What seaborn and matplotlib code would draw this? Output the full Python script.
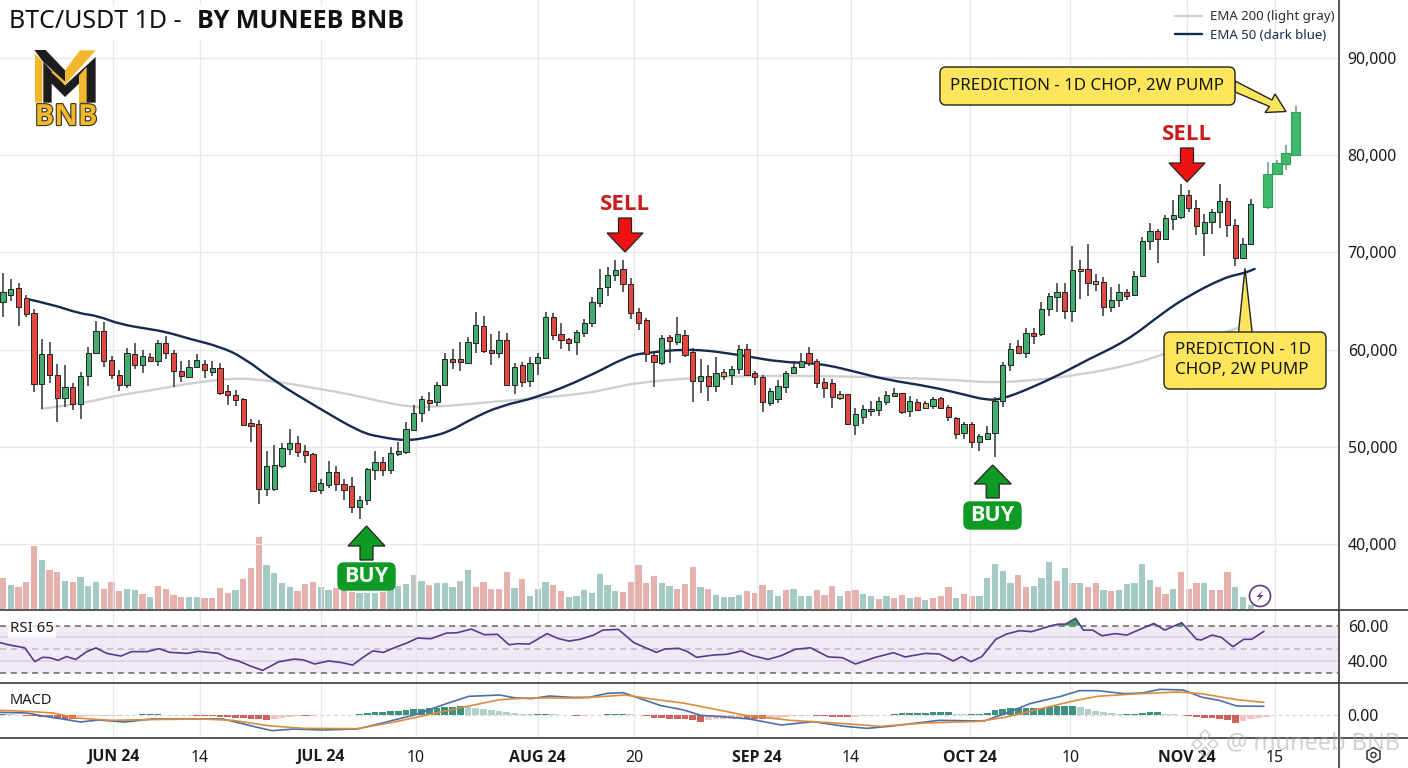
import matplotlib
matplotlib.use('Agg')
import matplotlib.pyplot as plt
import matplotlib.patheffects as pe
from matplotlib.patches import Polygon, FancyBboxPatch, Circle, PathPatch, Rectangle
from matplotlib.path import Path
import numpy as np
import pandas as pd
import seaborn as sns

# prices in thousands of USDT, one entry per daily candle
opens = [64.9,65.6,66.3,65.3,63.8,56.5,59.5,57.4,55.0,56.2,
         54.4,57.3,59.7,61.9,58.9,57.4,56.4,59.5,58.4,59.2,
         58.8,60.7,59.6,57.8,57.2,58.2,58.5,57.7,58.1,55.7,
         55.3,54.9,52.4,52.3,45.7,45.7,48.0,49.8,50.4,49.6,
         49.3,45.6,46.1,47.4,46.2,46.0,43.8,44.5,47.6,48.4,
         47.6,49.3,49.5,51.7,53.5,54.8,54.6,56.4,59.0,59.0,
         58.6,60.7,62.4,60.0,59.7,61.0,56.4,58.4,56.8,58.6,
         59.1,63.4,61.6,61.1,60.8,61.7,62.7,64.8,66.4,67.7,
         68.3,66.8,63.9,63.0,59.4,58.6,61.3,60.8,61.5,59.8,
         56.8,57.3,56.3,57.7,57.4,58.0,60.1,57.6,57.2,54.5,
         54.9,56.2,57.6,58.2,59.6,58.8,56.7,56.6,55.4,55.4,
         52.2,53.1,53.7,53.8,54.6,55.2,55.5,53.7,54.6,54.5,
         54.2,55.0,54.1,53.0,51.4,52.3,50.5,50.8,51.4,54.7,
         58.4,60.4,59.6,61.7,61.6,64.2,65.4,65.9,64.0,68.3,
         68.3,67.1,67.0,64.4,65.1,65.9,65.6,67.6,71.2,72.2,
         71.4,73.4,73.6,75.9,74.6,72.0,73.1,74.2,75.3,72.8,
         69.4,70.9]
closes = [65.9,66.2,64.4,63.7,56.5,59.5,57.4,55.0,56.2,54.4,
          57.3,59.7,61.9,58.8,57.4,56.4,59.6,58.4,59.3,58.8,
          60.7,59.6,57.8,57.3,58.2,58.9,57.9,58.1,55.5,55.3,
          54.8,52.2,52.1,45.7,48.0,48.1,49.9,50.4,49.5,49.2,
          45.5,46.3,47.4,46.2,45.6,43.8,44.5,47.7,48.4,47.6,
          49.4,49.6,51.8,53.5,54.9,54.5,56.4,59.0,58.7,58.7,
          60.8,62.5,59.9,59.7,61.0,56.4,58.2,56.7,58.6,59.2,
          63.4,61.5,61.0,60.7,61.8,62.7,64.9,66.3,67.7,68.2,
          66.7,63.8,62.7,59.5,58.7,61.2,60.9,61.6,59.4,56.8,
          57.3,56.3,57.6,57.3,58.0,60.1,57.4,57.2,54.6,55.7,
          56.3,57.6,58.2,58.8,58.6,56.6,56.0,55.1,55.0,52.3,
          53.4,53.9,53.9,54.7,55.3,55.5,53.6,54.7,53.8,54.0,
          54.9,54.0,53.1,51.3,52.3,50.5,51.1,51.4,54.7,58.4,
          60.1,59.7,61.7,61.4,64.2,65.5,65.9,64.0,68.2,68.1,
          66.9,66.8,64.4,65.1,65.9,65.5,67.6,71.2,72.2,71.4,
          73.5,73.9,75.9,74.6,72.7,73.1,74.2,75.3,72.8,69.4,
          70.9,75.0]
highs = [67.9,67.3,66.9,65.6,64.2,61.1,60.8,58.5,58.4,56.6,
         57.7,60.3,62.9,62.8,59.3,57.9,60.2,60.7,60.0,59.7,
         61.0,61.4,60.0,58.8,58.9,59.5,58.9,58.8,58.6,56.4,
         55.8,55.0,52.9,52.8,49.6,50.2,50.4,51.8,51.1,50.2,
         49.4,46.7,48.5,48.0,46.7,46.9,44.9,47.8,49.6,49.0,
         50.0,50.5,52.6,54.3,55.2,55.6,56.7,59.6,60.1,60.8,
         61.3,63.9,63.5,61.6,61.9,61.7,58.6,58.7,59.2,59.6,
         63.9,63.8,62.7,61.2,62.0,63.1,65.4,68.3,68.5,69.2,
         69.2,67.4,64.3,63.2,59.7,61.5,61.5,63.4,62.0,60.2,
         59.0,58.4,59.2,58.0,58.3,60.5,60.6,57.8,57.4,56.1,
         56.9,57.8,58.8,59.6,60.3,59.0,57.1,57.0,55.7,55.4,
         54.0,54.3,54.7,55.1,55.7,56.1,55.5,55.2,54.9,54.7,
         55.1,55.1,54.3,53.1,52.5,52.5,51.3,52.1,55.1,58.7,
         60.7,61.0,62.2,62.2,64.9,65.8,66.9,66.9,70.7,69.2,
         70.9,67.8,67.5,66.4,66.7,66.2,68.1,71.6,73.0,72.4,
         73.9,75.4,77.0,76.4,75.4,74.0,74.5,77.0,75.6,73.4,
         71.5,75.5]
lows = [63.4,65.0,62.4,63.4,55.6,53.9,56.6,52.6,54.1,53.8,
        52.9,56.3,59.6,58.2,57.0,55.7,56.1,58.0,57.6,58.7,
        58.3,59.0,56.2,56.7,57.1,58.1,57.1,57.3,55.3,54.3,
        54.2,52.2,50.5,44.1,44.9,45.4,47.8,49.2,49.0,48.3,
        45.4,45.1,45.8,45.4,44.5,43.2,42.6,44.0,46.6,47.0,
        47.2,49.1,49.3,51.6,52.6,53.7,54.2,56.3,58.0,57.8,
        58.6,59.7,59.6,58.4,59.1,56.3,55.4,56.2,56.2,57.4,
        59.1,61.0,60.1,59.9,59.4,61.3,62.3,64.4,65.5,67.1,
        65.9,63.1,62.0,58.7,56.2,58.4,58.6,60.5,59.2,54.6,
        55.5,54.7,55.6,56.9,56.4,57.5,57.3,56.4,53.6,54.2,
        54.5,55.5,57.5,58.1,58.3,56.1,55.0,54.0,54.8,52.2,
        51.2,52.3,53.2,53.2,54.3,55.1,53.4,53.1,53.7,53.9,
        53.9,53.9,52.7,50.8,50.8,49.9,49.6,50.7,48.9,54.1,
        57.8,59.6,59.1,60.6,61.4,63.5,63.9,63.1,62.8,65.2,
        65.5,66.0,63.5,63.9,64.4,65.1,65.5,67.5,70.2,68.9,
        71.3,72.3,73.4,74.2,71.8,69.6,71.9,72.5,71.6,68.6,
        69.3,70.8]
doji_days = [93, 108, 119, 139, 141]

# the four projected candles at the right edge
pred_days = [163.2, 164.4, 165.5, 166.8]
pred_opens = [74.7, 78.1, 79.1, 80.0]
pred_closes = [78.1, 79.2, 80.2, 84.4]
pred_highs = [79.3, 79.5, 81.0, 85.1]
pred_lows = [74.5, 78.0, 78.5, 80.0]

ema50_days = [3.1,6.1,9.9,12.1,15.1,19,21.1,24.1,28,31,35.3,40.5,46.1,48.7,52.1,55.1,57.7,
              60.3,64.1,68.9,75.3,80.5,83.1,89.1,95.5,100.3,105.4,110.6,114,119.6,123.9,
              126.9,128.9,132.5,136.8,139.8,145,149.7,152.7,157.5,160.3,161.5]
ema50_vals = [65.2,64.7,63.7,63.5,62.6,62.1,61.8,61.1,60.3,59.2,56.6,54.1,51.5,51.0,50.6,51.0,51.6,
              52.8,54.2,55.05,57.1,59.3,59.7,60.1,59.4,58.7,58.6,57.6,56.9,56.2,55.4,
              54.8,54.9,56.0,57.6,58.9,60.9,63.8,65.4,67.4,67.9,68.3]
ema200_days = [5,10.4,14.2,19,22.4,27.6,29.7,31.9,36.2,40.5,44.8,49.1,52.5,55.5,60.3,64.1,68.9,75.3,
               78.3,81.8,89.1,96.4,104.6,110.6,119.6,123.9,127.6,132.5,138.9,145.4,149.7,159.2]
ema200_vals = [53.9,54.5,55.2,55.8,56.3,56.9,57.0,57.0,56.6,56.0,55.4,54.6,54.1,54.1,54.4,54.7,55.0,55.5,
               56.0,56.6,57.1,57.3,57.3,57.2,57.0,56.8,56.6,56.8,57.4,58.4,59.5,62.2]

volumes = [92,71,67,82,189,147,117,112,83,80,
           96,69,82,60,80,53,60,57,44,37,
           70,59,42,35,37,37,33,33,63,49,
           56,89,122,217,132,109,79,67,55,75,
           82,65,56,62,57,52,47,47,47,52,
           67,69,75,102,84,72,79,79,66,84,
           117,66,82,61,60,110,63,89,39,60,
           81,71,55,36,40,56,47,105,72,55,
           50,82,133,79,100,78,68,60,75,127,
           67,60,41,35,35,42,54,47,72,57,
           40,56,59,40,40,56,41,69,39,53,
           57,45,39,30,39,32,41,34,35,28,
           32,38,67,34,45,40,40,93,135,113,
           77,101,67,69,92,140,84,124,79,79,
           67,79,57,55,57,74,78,136,87,65,
           46,61,112,60,79,79,56,56,110,65,
           37,12]
volume_sides = ("rtrrrtrrtr" "tttrrrttrt" "rrrrttrrrr" "trrrttttrr" "rttrrrtttr"
                "tttgtrtttg" "trrrrrtrtt" "trrttttttt" "rrrrrttrrr" "trttttrrrt"
                "trtttrrrtr" "rttrtrrtrt" "rrrtrrtttt" "trrtttrtrt" "rrtrtttttr"
                "rtrrrtrrrt" "tt")

rsi_days = [-0.4,0.8,2.8,4.1,5.1,6,7.1,8.2,9.4,10.8,12,13.4,15.2,16.6,18.6,20.1,21.5,23.8,25.2,27.8,
            29,30.4,31.9,33.5,35.6,37.6,38.8,40.2,42,43.7,45.1,46.6,47.7,49.1,50.6,52,53.5,55.2,57.2,58.6,
            60.4,62.1,63.8,65.3,66.4,67.9,70.2,71.6,73,74.5,76.2,77.4,79.4,81.4,82.6,84.3,85.4,87.2,88.3,89.5,
            91.7,93.4,95.3,96.6,98.7,100.4,102.2,104.2,106.5,108.3,110,112.6,114.9,116.4,119,120.8,122.6,123.7,124.9,126.3,
            128.1,129.5,131.2,132.7,135.4,136.2,137.1,138.4,139.4,140.6,141.8,143.5,145,148.5,149.9,152.1,154,154.6,156,157.2,
            158.7,160.1,161.1,162.7]
rsi_vals = [50.4,49.1,47.5,39.6,42.1,41.9,40.4,42.5,40.9,45.3,47.4,44.3,42.8,45.3,45.3,47.0,44.9,44.3,45.5,44.3,
            41.5,40.0,37.2,34.7,39.6,41.1,40.6,38.3,40.0,39.1,37.7,42.5,45.7,44.9,47.7,50.0,53.0,52.6,55.8,56.0,
            58.1,54.9,55.1,49.2,49.8,49.6,55.5,52.8,51.3,52.3,54.7,57.5,57.9,50.4,48.1,44.9,46.8,47.2,45.3,42.1,
            43.4,43.8,45.7,43.2,40.9,43.0,46.6,47.5,42.3,41.9,38.3,42.1,44.7,42.3,44.3,44.0,40.0,42.5,39.6,42.5,
            52.3,55.3,57.2,56.6,60.2,60.9,60.9,64.2,57.5,57.5,54.3,55.5,54.7,61.3,57.5,61.7,52.3,51.9,54.7,53.4,
            48.1,52.3,52.3,56.8]

macd_days = [-0.4,3.1,5.4,7.7,10,12.3,15.7,19.2,25,28.4,31.9,34.7,37.6,41.1,45.7,48.6,53.2,57.2,60.1,64.1,
             65.9,68.2,70.5,73.3,75.6,78,80,82,84.9,87.7,90,93.4,96.3,100.4,104.5,108.6,111.5,114.4,120.8,126.6,
             129.5,132.5,136.5,138.9,141.2,144.7,147,149.3,152.3,154.6,156.9,159.2,162.7]
macd_vals = [80,60,-40,-120,-210,-150,-210,-120,-120,-120,-320,-470,-420,-450,-420,-260,10,340,560,600,
             520,490,570,530,530,650,670,510,280,160,-10,-60,-120,-300,-200,-340,-400,-340,-160,-180,
             60,340,560,730,730,640,660,770,750,540,440,270,260]
signal_days = [-0.4,3.1,6.5,9.4,14,18.6,25.5,29.6,34.2,38.8,45.7,50.3,54.9,59.5,64.1,67.6,74.5,80.3,83.7,87.7,
               90,95.8,101.6,107.4,113.2,119,126,129.5,133,138.3,141.2,145.9,151.7,154.6,159.2,162.7]
signal_vals = [140,110,60,-90,-160,-140,-120,-160,-320,-400,-410,-220,10,240,460,510,510,600,480,360,
               260,-10,-160,-240,-340,-240,-190,-60,140,430,560,630,690,640,460,380]
hist_vals = [30,20,10,-20,-40,-60,-70,-90,-110,-120,
             -70,-40,-30,-30,-30,-30,-10,10,20,30,
             30,10,-10,-10,-10,-20,-30,-40,-50,-60,
             -80,-100,-120,-130,-140,-110,-80,-50,-20,-30,
             -20,-10,-5,0,10,10,20,60,80,100,
             110,130,150,170,190,200,210,230,250,260,
             240,210,180,160,130,90,50,30,20,30,
             40,30,10,-10,-20,-20,-10,10,30,40,
             40,20,5,-40,-80,-100,-110,-120,-130,-160,
             -200,-150,-130,-120,-110,-80,-110,-120,-130,-120,
             -90,-60,-40,-20,-10,-20,-40,-50,-60,-70,
             -70,-40,-20,-5,0,30,50,60,60,70,
             80,80,80,30,20,20,30,60,140,180,
             200,210,220,220,220,240,260,280,280,230,
             170,130,100,70,30,30,30,60,80,90,
             30,20,10,-30,-60,-90,-100,-110,-140,-230,
             -170,-130,-90,-60]

tick_days = [14.2, 25.4, 41, 53.3, 69, 81.4, 97.3, 109.4, 124.8, 137.7, 152.8, 164.1]
tick_labels = ['JUN 24', '14', 'JUL 24', '10', 'AUG 24', '20', 'SEP 24', '14', 'OCT 24', '10', 'NOV 24', '15']
price_ticks = [40, 50, 60, 70, 80, 90]

UP = '#43ad70'
DOWN = '#e2483f'
FONT = 'Noto Sans'
BOLD = 'Open Sans'
GRID = '#e8e8e8'
W, H = 1408, 768

sns.set_theme(style='white')
plt.rcParams['font.family'] = FONT
plt.rcParams['axes.unicode_minus'] = False

fig = plt.figure(figsize=(W / 100, H / 100), dpi=100, facecolor='white')


def panel(top, bottom, z=1):
    # axes placed by its pixel rows in the 1408x768 frame
    a = fig.add_axes([0, 1 - bottom / H, 1338 / W, (bottom - top) / H], zorder=z)
    a.patch.set_alpha(0)
    sns.despine(ax=a, left=True, bottom=True, right=True, top=True)
    return a


def smooth_over(a, line, z):
    # same points, drawn with rounded corners instead of a sharp polyline
    pts = line.get_xydata()
    mids = (pts[1:-1] + pts[2:]) / 2
    verts = [pts[0]]
    codes = [Path.MOVETO]
    for ctrl, end in zip(pts[1:-1], mids):
        verts += [ctrl, end]
        codes += [Path.CURVE3, Path.CURVE3]
    verts.append(pts[-1])
    codes.append(Path.LINETO)
    a.add_patch(PathPatch(Path(verts, codes), facecolor='none', edgecolor=line.get_color(),
                          linewidth=line.get_linewidth(), capstyle='round', zorder=z))
    line.set_visible(False)


days = np.arange(len(opens))
candles = pd.DataFrame({'day': days, 'open': opens, 'close': closes, 'high': highs, 'low': lows})
candles['up'] = candles['close'] >= candles['open']
candles['color'] = np.where(candles['up'], UP, DOWN)
candles.loc[doji_days, 'color'] = '#c9a66b'

# volume sits behind the candles, sharing the same panel
ax_vol = panel(0, 609, z=1)
vol_df = pd.DataFrame({'day': days, 'volume': volumes, 'side': list(volume_sides)})
sns.barplot(data=vol_df, x='day', y='volume', hue='side', dodge=False, native_scale=True, width=0.82,
            palette={'r': '#eea9a3', 't': '#9fd0ca', 'g': '#bcc4c2'}, legend=False, ax=ax_vol, linewidth=0)
ax_vol.set_ylim(0, 609 * 3)
ax_vol.set_yticks([])

ax = panel(0, 609, z=2)
ax.set_ylim(33.31, 95.97)
ax.set_yticks(price_ticks)
ax.set_yticklabels([f'{p},000' for p in price_ticks])

sns.lineplot(x=ema200_days, y=ema200_vals, color='#cfcfcf', linewidth=1.7, ax=ax, label='EMA 200 (light gray)', zorder=2)
sns.lineplot(x=ema50_days, y=ema50_vals, color='#16294f', linewidth=1.7, ax=ax, label='EMA 50 (dark blue)', zorder=3)
ema_lines = list(ax.lines)

ax.vlines(candles['day'], candles['low'], candles['high'], color='#333333', linewidth=1.1, zorder=4)
ax.bar(candles['day'], (candles['close'] - candles['open']).abs().clip(lower=0.15),
       bottom=candles[['open', 'close']].min(axis=1), width=0.68,
       color=candles['color'], edgecolor='#222222', linewidth=0.7, zorder=5)

ax.vlines(pred_days, pred_lows, pred_highs, color='#6f8f7a', linewidth=1.1, zorder=4)
ax.bar(pred_days, np.array(pred_closes) - np.array(pred_opens), bottom=pred_opens, width=1.2,
       color='#3dba6c', edgecolor='#2f9c59', linewidth=0.8, zorder=5)

# rsi panel
ax_rsi = panel(610, 682, z=2)
ax_rsi.set_ylim(28.1, 68.9)
ax_rsi.axhspan(33.4, 60, color='#f0eaf7', zorder=0, linewidth=0)
for level, col, ls in [(60, '#666666', (0, (4, 3))), (33.4, '#666666', (0, (4, 3))), (46.8, '#bdb6c6', (0, (4, 3))),
                       (53.6, '#d9d0e4', '-'), (40, '#d9d0e4', '-')]:
    ax_rsi.axhline(level, color=col, linestyle=ls, linewidth=1.1, zorder=1)
sns.lineplot(x=rsi_days, y=rsi_vals, color='#5a3a8e', linewidth=1.2, ax=ax_rsi, zorder=3)
ax_rsi.fill_between(rsi_days, 60, rsi_vals, where=np.array(rsi_vals) > 60, interpolate=True, color='#3fa35e', zorder=2, linewidth=0)
ax_rsi.set_yticks([40, 60])
ax_rsi.set_yticklabels(['40.00', '60.00'])

# macd panel
ax_macd = panel(682, 737, z=2)
hist_days = np.arange(len(hist_vals))
hist = pd.Series(hist_vals, index=hist_days)
prev = hist.shift(1).fillna(0)
tone = np.select([(hist >= 0) & (hist >= prev), hist >= 0, hist < prev], ['up', 'up_fade', 'down'], 'down_fade')
sns.barplot(x=hist_days, y=hist_vals, hue=tone, dodge=False, native_scale=True, width=0.86, legend=False, ax=ax_macd,
            palette={'up': '#2f9e88', 'up_fade': '#a8d8cf', 'down': '#e2504c', 'down_fade': '#f6bdb9'}, linewidth=0, zorder=1)
ax_macd.axhline(0, color='#d8d8d8', linewidth=1, linestyle=(0, (3, 2)), zorder=0)
sns.lineplot(x=macd_days, y=macd_vals, color='#4a70a8', linewidth=1.2, ax=ax_macd, zorder=3)
sns.lineplot(x=signal_days, y=signal_vals, color='#dc8c3e', linewidth=1.2, ax=ax_macd, zorder=4)
ax_macd.set_ylim(-660, 990)
ax_macd.set_yticks([0])
ax_macd.set_yticklabels(['0.00'])

for a in (ax_vol, ax, ax_rsi, ax_macd):
    a.set_xlim(-0.39, 172.26)
    a.set_xlabel('')
    a.set_ylabel('')
    a.set_xticks(tick_days)
    a.grid(True, axis='x', color=GRID, linewidth=1.0, zorder=0)
    a.set_axisbelow(True)
    a.tick_params(length=0)
    a.yaxis.tick_right()
    a.tick_params(axis='y', labelsize=11.4, pad=7, labelcolor='#1a1a1a')
ax.grid(True, axis='y', color=GRID, linewidth=1.0)
ax_vol.grid(False)
for a in (ax_vol, ax, ax_rsi):
    a.set_xticklabels([])
ax_macd.set_xticklabels(tick_labels)
ax_macd.tick_params(axis='x', labelsize=11.4, pad=9, labelcolor='#1a1a1a')
for lab, text in zip(ax_macd.get_xticklabels(), tick_labels):
    if ' ' in text:
        lab.set_fontweight('bold')
        lab.set_family(BOLD)

leg = ax.legend(loc='upper left', bbox_to_anchor=(1170 / 1338, 1 - 5 / 609), frameon=False, fontsize=9.5,
                handlelength=2.0, labelspacing=0.42, handletextpad=0.6, borderaxespad=0.1, borderpad=0.3)
leg.get_texts()[0].set_color('#2b2b2b')
leg.get_texts()[1].set_color('#1c2c50')
leg.set_zorder(10)
for ln, z in zip(ema_lines, (2, 3)):
    smooth_over(ax, ln, z)

# overlay in picture pixels for the drawn annotations
ov = fig.add_axes([0, 0, 1, 1], zorder=5)
ov.set_xlim(0, W)
ov.set_ylim(H, 0)
ov.axis('off')

for y in (609.5, 682.5, 737.5):
    ov.plot([0, W], [y, y], color='#3a3a3a', linewidth=1.2)
ov.plot([1338.5, 1338.5], [0, H], color='#3a3a3a', linewidth=1.2)

ov.add_patch(Rectangle((0, 5), 410, 35, facecolor='white', edgecolor='none'))
ov.text(9, 22, 'BTC/USDT 1D - ', fontsize=18, va='center', color='#111111')
ov.text(197, 22, 'BY MUNEEB BNB', fontsize=18, family=BOLD, fontweight='bold', va='center', color='#111111')
ov.text(10, 628, 'RSI 65', fontsize=10.8, va='center', color='#1a1a1a',
        bbox=dict(facecolor='white', edgecolor='none', pad=1.5, alpha=0.8))
ov.text(10, 700, 'MACD', fontsize=10.5, va='center', color='#1a1a1a')


def logo_poly(points, color):
    ov.add_patch(Polygon([(25 + x / 3, 42 + y / 3) for x, y in points], closed=True, facecolor=color, edgecolor='none'))


GOLD = '#f0b72f'
INK = '#1d1d1b'
logo_poly([(55, 60), (55, 182), (80, 182), (80, 125), (120, 165), (162, 125), (162, 182), (212, 182), (212, 45), (120, 130)], INK)
logo_poly([(30, 35), (52, 58), (52, 182), (30, 182)], GOLD)
logo_poly([(165, 25), (212, 25), (120, 128), (80, 92), (80, 70), (120, 85)], GOLD)
logo_poly([(28, 24), (62, 24), (120, 85), (120, 118), (55, 60)], INK)
logo_poly([(162, 100), (185, 75), (185, 182), (162, 182)], GOLD)
ov.text(66, 117.5, 'BNB', fontsize=21, family=BOLD, fontweight='bold', ha='center', va='center', color=GOLD,
        path_effects=[pe.withStroke(linewidth=1.6, foreground='#3a3018')])


def block_arrow(cx, tip, head, tail, half_head, half_shaft, color):
    pts = [(cx, tip), (cx + half_head, head), (cx + half_shaft, head), (cx + half_shaft, tail),
           (cx - half_shaft, tail), (cx - half_shaft, head), (cx - half_head, head)]
    ov.add_patch(Polygon(pts, closed=True, facecolor=color, edgecolor='#222222', linewidth=0.9, zorder=8))


def badge(x0, y0, x1, y1, color, edge, lw=1.0, z=8):
    ov.add_patch(FancyBboxPatch((x0 + 5, y0 + 5), x1 - x0 - 10, y1 - y0 - 10, boxstyle='round,pad=5,rounding_size=6',
                                facecolor=color, edgecolor=edge, linewidth=lw, zorder=z))


BUY_GREEN = '#0f9a26'
for cx, tip, head, tail, box in [(366.5, 526, 546, 560, (338, 563, 395, 590)),
                                 (992.7, 465, 484, 498, (964, 502, 1021, 529))]:
    block_arrow(cx, tip, head, tail, 18.5, 6.5, BUY_GREEN)
    badge(*box, BUY_GREEN, '#0f9a26')
    ov.text((box[0] + box[2]) / 2, (box[1] + box[3]) / 2, 'BUY', color='#f2fff2', fontsize=15.5, family=BOLD, fontweight='bold',
            ha='center', va='center', zorder=9)

for cx, top, head, tip, ty in [(625, 218, 233, 252, 204), (1187, 148, 163, 182, 135)]:
    block_arrow(cx, tip, head, top, 18, 6.5, '#ee1212')
    ov.text(cx, ty, 'SELL', color='#c91c1f', fontsize=16, family=BOLD, fontweight='bold', ha='center', va='center', zorder=9)

YELLOW = '#fde65c'
# pointer of the upper note, then its box
ov.add_patch(Polygon([(1235, 81), (1272, 100), (1275, 94), (1286, 111.5), (1265, 112.5), (1269.5, 106.5), (1235, 92)],
                     closed=True, facecolor=YELLOW, edgecolor='#222222', linewidth=1.0, zorder=7))
badge(940, 67, 1235, 105, YELLOW, '#222222', z=8)
ov.text(1087.5, 86, 'PREDICTION - 1D CHOP, 2W PUMP', fontsize=12.2, ha='center', va='center', color='#151515', zorder=9)

ov.add_patch(Polygon([(1238.3, 334), (1252.3, 334), (1245, 268.3)], closed=True, facecolor=YELLOW, edgecolor='#222222',
                     linewidth=1.0, zorder=7))
badge(1164, 332, 1326, 389, YELLOW, '#222222', z=8)
ov.text(1175, 350.5, 'PREDICTION - 1D', fontsize=12.2, ha='left', va='center', color='#151515', zorder=9)
ov.text(1175, 370.5, 'CHOP, 2W PUMP', fontsize=12.2, ha='left', va='center', color='#151515', zorder=9)

# small lightning badge on the volume panel
ov.add_patch(Circle((1260, 596), 10.5, facecolor='white', edgecolor='#5a3a8e', linewidth=1.2, zorder=6))
ov.add_patch(Polygon([(1263, 590), (1256.5, 597), (1260, 597), (1257, 602), (1263.5, 595), (1260, 595)], closed=True,
                     facecolor='#5a3a8e', edgecolor='none', zorder=7))

# settings hexagon at the bottom right corner
ang = np.deg2rad(np.arange(30, 390, 60))
ov.add_patch(Polygon(np.c_[1373.5 + 7.5 * np.cos(ang), 755 + 7.5 * np.sin(ang)], closed=True, facecolor='none',
                     edgecolor='#333333', linewidth=1.1))
ov.add_patch(Circle((1373.5, 755), 2.6, facecolor='none', edgecolor='#333333', linewidth=1.0))

# watermark
ov.text(1226, 743, '@ muneeb BNB', fontsize=17, color='#a5a5a5', alpha=0.5, va='center', zorder=9)
for dx, dy in [(1205, 735), (1197, 744), (1213, 744), (1205, 752)]:
    ov.add_patch(Polygon([(dx, dy - 5), (dx + 5, dy), (dx, dy + 5), (dx - 5, dy)], closed=True, facecolor='none',
                         edgecolor='#b5b5b5', linewidth=1.0, alpha=0.7, zorder=9))

fig.savefig('out.png', dpi=100)
